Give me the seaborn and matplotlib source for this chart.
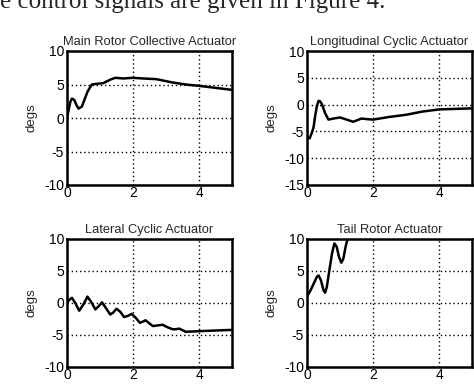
import numpy as np
import pandas as pd
import matplotlib
matplotlib.use("Agg")
import matplotlib.pyplot as plt
import seaborn as sns

# ---- data ----
t_coll = [0.0, 0.05, 0.1, 0.15, 0.22, 0.29, 0.35, 0.45, 0.55, 0.62, 0.75, 0.9, 1.1, 1.3, 1.46, 1.7, 2.0, 2.3, 2.7, 3.2, 3.6, 4.0, 4.5, 5.0]
y_coll = [0.0, 1.2, 2.4, 2.9, 2.7, 1.9, 1.4, 1.7, 3.0, 3.9, 5.0, 5.1, 5.2, 5.7, 6.0, 5.9, 6.0, 5.9, 5.8, 5.3, 5.0, 4.8, 4.5, 4.2]

t_long = [0.0, 0.08, 0.15, 0.2, 0.25, 0.3, 0.35, 0.4, 0.45, 0.55, 0.65, 0.8, 1.0, 1.2, 1.4, 1.65, 1.8, 2.0, 2.5, 3.0, 3.5, 4.0, 4.5, 5.0]
y_long = [-6.0, -6.3, -5.2, -4.2, -2.0, -0.3, 0.7, 0.6, 0.1, -1.6, -2.8, -2.6, -2.4, -2.8, -3.2, -2.6, -2.7, -2.8, -2.3, -1.9, -1.3, -0.9, -0.8, -0.7]

t_lat = [0.0, 0.07, 0.15, 0.25, 0.37, 0.5, 0.62, 0.74, 0.86, 0.96, 1.06, 1.18, 1.31, 1.4, 1.5, 1.62, 1.73, 1.85, 1.96, 2.08, 2.21, 2.3, 2.38, 2.5, 2.6, 2.75, 2.9, 3.05, 3.2, 3.3, 3.4, 3.6, 3.8, 4.0, 4.5, 5.0]
y_lat = [0.0, 0.5, 0.8, 0.0, -1.2, -0.2, 1.0, 0.1, -1.0, -0.5, 0.1, -0.8, -1.8, -1.5, -0.9, -1.4, -2.2, -2.0, -1.7, -2.3, -3.1, -2.9, -2.7, -3.2, -3.6, -3.5, -3.4, -3.8, -4.1, -4.1, -4.0, -4.5, -4.45, -4.4, -4.3, -4.2]

t_tail = [0.0, 0.1, 0.2, 0.3, 0.35, 0.42, 0.5, 0.55, 0.6, 0.68, 0.76, 0.83, 0.9, 0.97, 1.04, 1.1, 1.17, 1.23, 1.3]
y_tail = [1.0, 1.9, 3.0, 4.1, 4.3, 3.6, 2.0, 1.6, 2.5, 5.2, 7.8, 9.3, 8.8, 7.2, 6.3, 6.9, 8.8, 10.0, 11.5]

titles = ["Main Rotor Collective Actuator", "Longitudinal Cyclic Actuator",
          "Lateral Cyclic Actuator", "Tail Rotor Actuator"]
ylims = [(-10, 10), (-15, 10), (-10, 10), (-10, 10)]
yticks = [[-10, -5, 0, 5, 10], [-15, -10, -5, 0, 5, 10], [-10, -5, 0, 5, 10], [-10, -5, 0, 5, 10]]
xticks = [0, 2, 4]
ylabel = "degs"
caption = "e control signals are given in Figure 4."

series = [(t_coll, y_coll), (t_long, y_long), (t_lat, y_lat), (t_tail, y_tail)]

sns.set_theme(style="white")
plt.rcParams['font.family'] = ['Liberation Sans', 'DejaVu Sans']

W, H = 474, 384
fig = plt.figure(figsize=(W / 100, H / 100), dpi=100)

# axes boxes in pixel coords: left, top, right, bottom
boxes = [(67, 51, 232, 185), (307, 51, 472, 185), (67, 239, 232, 367), (307, 239, 472, 367)]

for i, (box, (t, y)) in enumerate(zip(boxes, series)):
    l, tp, r, b = box
    ax = fig.add_axes([l / W, 1 - b / H, (r - l) / W, (b - tp) / H])
    df = pd.DataFrame({"t": t, "y": y})
    sns.lineplot(data=df, x="t", y="y", ax=ax, color="black", linewidth=1.8,
                 estimator=None, sort=False)
    ax.set_xlim(0, 5)
    ax.set_ylim(*ylims[i])
    ax.set_xticks(xticks)
    ax.set_yticks(yticks[i])
    ax.set_xticklabels([str(v) for v in xticks], fontsize=10)
    ax.set_yticklabels([str(v) for v in yticks[i]], fontsize=10)
    ax.grid(True, color="black", linestyle=(0, (1, 2)), linewidth=1.0)
    for s in ax.spines.values():
        s.set_visible(True)
        s.set_color("black")
        s.set_linewidth(1.8)
    ax.tick_params(axis="y", direction="in", length=3, width=1, colors="black", pad=2)
    ax.tick_params(axis="x", direction="in", length=3, width=1, colors="black", pad=1)
    ax.set_xlabel("")
    ax.set_ylabel(ylabel, fontsize=9.5, labelpad=5)
    ax.set_title(titles[i], fontsize=9.3, pad=4)

fig.text(0.0, 1 - 8 / H, caption, family=['Liberation Serif', 'DejaVu Serif'], fontsize=18,
         ha="left", va="baseline")

fig.savefig("out.png", dpi=100, facecolor="white")
